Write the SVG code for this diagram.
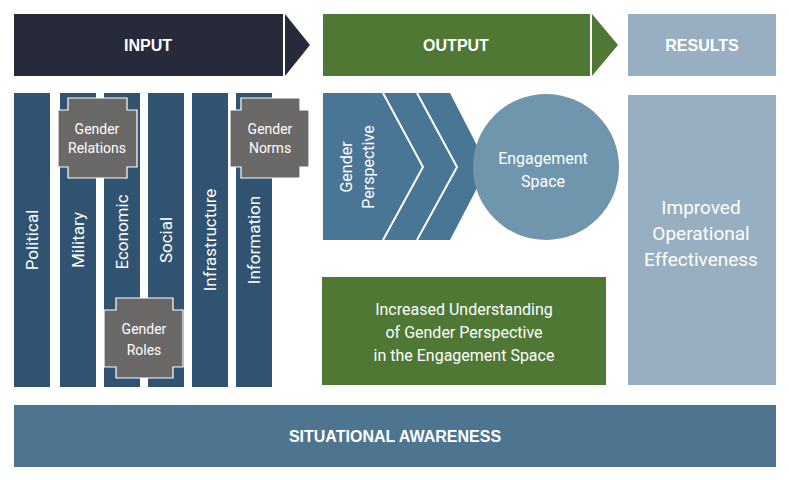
<svg xmlns="http://www.w3.org/2000/svg" width="789" height="480" viewBox="0 0 789 480">
<style>
.bar{fill:#2f5370}
.g{fill:#6b6868;stroke:#fff;stroke-width:1.2}
.t{font-family:Roboto,"Liberation Sans",sans-serif;fill:#fff}
.h{font-family:"Liberation Sans",sans-serif;font-weight:bold;fill:#fff;font-size:16px}
</style>
<rect width="789" height="480" fill="#fff"/>
<g id="input"><rect x="14" y="14" width="269" height="62" fill="#262a3a"/><polygon points="285,14 310,45 285,76" fill="#262a3a"/><text class="h" x="148" y="51" text-anchor="middle">INPUT</text></g>
<g id="output"><rect x="323" y="14" width="267" height="62" fill="#4e7834"/><polygon points="592,14 618,45 592,76" fill="#4e7834"/><text class="h" x="456" y="51" text-anchor="middle">OUTPUT</text></g>
<g id="results"><rect x="628" y="14" width="148" height="62" fill="#97afc1"/><text class="h" x="702" y="51" text-anchor="middle">RESULTS</text></g>
<g id="bars">
<rect class="bar" x="14" y="93" width="36" height="294"/><text class="t" font-size="17" transform="translate(38,240) rotate(-90)" text-anchor="middle">Political</text>
<rect class="bar" x="60" y="93" width="36" height="294"/><text class="t" font-size="17" transform="translate(84,240) rotate(-90)" text-anchor="middle">Military</text>
<rect class="bar" x="104" y="93" width="36" height="294"/><text class="t" font-size="17" transform="translate(128,232) rotate(-90)" text-anchor="middle">Economic</text>
<rect class="bar" x="148" y="93" width="36" height="294"/><text class="t" font-size="17" transform="translate(172,240) rotate(-90)" text-anchor="middle">Social</text>
<rect class="bar" x="192" y="93" width="36" height="294"/><text class="t" font-size="17" transform="translate(216,240) rotate(-90)" text-anchor="middle">Infrastructure</text>
<rect class="bar" x="236" y="93" width="36" height="294"/><text class="t" font-size="17" transform="translate(260,240) rotate(-90)" text-anchor="middle">Information</text>
</g>
<g id="gender-relations"><polygon class="g" points="68,98 127,98 127,110 137,110 137,167 127,167 127,178 68,178 68,167 58,167 58,110 68,110"/><text class="t" font-size="14" x="97" y="134" text-anchor="middle">Gender</text><text class="t" font-size="14" x="97" y="153" text-anchor="middle">Relations</text></g>
<g id="gender-norms"><polygon class="g" points="241,98 300,98 300,110 309,110 309,167 300,167 300,178 241,178 241,167 230,167 230,110 241,110"/><text class="t" font-size="14" x="270" y="134" text-anchor="middle">Gender</text><text class="t" font-size="14" x="270" y="153" text-anchor="middle">Norms</text></g>
<g id="gender-roles"><polygon class="g" points="116,298 173,298 173,310 183,310 183,367 173,367 173,378 116,378 116,367 104,367 104,310 116,310"/><text class="t" font-size="14" x="144" y="334" text-anchor="middle">Gender</text><text class="t" font-size="14" x="144" y="355" text-anchor="middle">Roles</text></g>
<g id="gender-perspective"><polygon points="323,93 450,93 488,167 450,240 323,240" fill="#4a7696"/><polyline points="383,93 423,167 383,240" fill="none" stroke="#fff" stroke-width="2"/><polyline points="417,93 457,167 417,240" fill="none" stroke="#fff" stroke-width="2"/><text class="t" font-size="16" transform="translate(352,167) rotate(-90)" text-anchor="middle">Gender</text><text class="t" font-size="16" transform="translate(374,167) rotate(-90)" text-anchor="middle">Perspective</text></g>
<g id="engagement"><circle cx="546" cy="167" r="73" fill="#7096ae"/><text class="t" font-size="16" x="543" y="164" text-anchor="middle">Engagement</text><text class="t" font-size="16" x="543" y="187" text-anchor="middle">Space</text></g>
<g id="understanding"><rect x="322" y="277" width="284" height="108" fill="#4e7834"/><text class="t" font-size="16" x="464" y="315" text-anchor="middle">Increased Understanding</text><text class="t" font-size="16" x="464" y="338" text-anchor="middle">of Gender Perspective</text><text class="t" font-size="16" x="464" y="361" text-anchor="middle">in the Engagement Space</text></g>
<g id="improved"><rect x="628" y="95" width="148" height="290" fill="#97afc1"/><text class="t" font-size="19" x="701" y="214" text-anchor="middle">Improved</text><text class="t" font-size="19" x="701" y="240" text-anchor="middle">Operational</text><text class="t" font-size="19" x="701" y="266" text-anchor="middle">Effectiveness</text></g>
<g id="situational"><rect x="14" y="405" width="762" height="62" fill="#4e7590"/><text class="h" x="395" y="442" text-anchor="middle">SITUATIONAL AWARENESS</text></g>
<g id="connectors"/>
</svg>
